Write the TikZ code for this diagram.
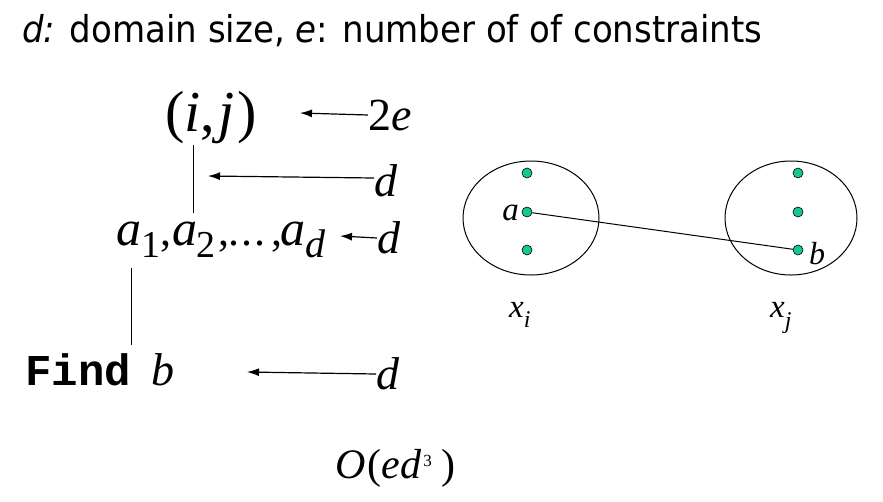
\documentclass[tikz,border=0pt]{standalone}
\usepackage{fontspec}
\setmainfont{Liberation Serif}
\newfontfamily\titlefont{DejaVu Sans}
\newfontfamily\monofont{Liberation Mono}
\usetikzlibrary{arrows.meta,shapes.geometric}
\definecolor{dotgreen}{RGB}{20,200,150}
\newcommand{\fs}[1]{\fontsize{#1}{#1}\selectfont}
\newcommand{\at}[2]{\rlap{\hspace*{#1pt}#2}}
\begin{document}
\begin{tikzpicture}[x=1pt,y=-1pt,
  arr/.style={line width=1.2pt,-{Latex[length=12pt,width=8pt]}},
  thin line/.style={line width=1pt},
  gdot/.style={circle,draw=black,line width=0.6pt,fill=dotgreen,inner sep=0pt,minimum size=10pt},
  dom/.style={ellipse,draw,line width=1pt},
  lbl/.style={inner sep=0pt,anchor=west}]
\useasboundingbox (0,0) rectangle (883,501);
% title
\node[inner sep=0pt,anchor=base west] (title) at (22,42)
  {\titlefont\fs{37}\scalebox{0.92}[1]{\textit{d:} domain size, \textit{e}: number of of constraints}};
% left column
\node[inner sep=0pt,anchor=base west] (ij) at (165,131)
  {\fs{58}\at{0}{(}\at{19}{\textit{i}}\at{35}{,}\at{53}{\textit{j}}\at{72}{)}\hspace*{94pt}};
\node[lbl] (l2e) at (368,115) {\fs{46}2\textit{e}};
\coordinate (t2e) at (300,113);
\draw[arr] (l2e.west) -- (t2e);
\coordinate (ijb) at (193,145);
\coordinate (ab) at (193,213);
\draw[thin line] (ijb) -- (ab);
\node[lbl] (ld1) at (374,181) {\fs{46}\textit{d}};
\coordinate (td1) at (208,176);
\draw[arr] (ld1.west) ++(0,-3) -- (td1);
\node[inner sep=0pt,anchor=base west] (alist) at (116,245)
  {\fs{50}\at{0}{\textit{a}}%
   \at{25}{\raisebox{-12pt}{\fs{38}1}}%
   \at{44}{\fs{44},}%
   \at{56}{\textit{a}}%
   \at{80}{\raisebox{-12pt}{\fs{38}2}}%
   \at{102}{\fs{44},}%
   \at{112}{\fs{44}.}\at{125}{\fs{44}.}\at{138}{\fs{44}.}%
   \at{155}{\fs{44},}%
   \at{164}{\textit{a}}%
   \at{189}{\raisebox{-12pt}{\fs{40}\textit{d}}}%
   \hspace*{210pt}};
\node[lbl] (ld2) at (377,238) {\fs{46}\textit{d}};
\coordinate (td2) at (340,236);
\draw[arr] (ld2.west) -- (td2);
\coordinate (av) at (131,268);
\coordinate (fv) at (131,345);
\draw[thin line] (av) -- (fv);
\node[inner sep=0pt,anchor=base west] (find) at (25,385)
  {\monofont\bfseries\fs{44}Find\hspace{21pt}\rmfamily\mdseries\fs{46}\textit{b}};
\node[lbl] (ld3) at (376,374) {\fs{46}\textit{d}};
\coordinate (td3) at (247,372);
\draw[arr] (ld3.west) -- (td3);
\node[inner sep=0pt,anchor=base west] (big) at (335,478)
  {\fs{42}\textit{O}\hspace{2pt}(\textit{ed}\hspace{2pt}\raisebox{12pt}{\fs{17}3}\hspace{10pt})};
% right side
\node[dom,minimum width=136pt,minimum height=114pt] (xi) at (531,218) {};
\node[dom,minimum width=132pt,minimum height=114pt] (xj) at (791,218) {};
\node[gdot] (i1) at (527,173) {};
\node[gdot] (ia) at (527,212) {};
\node[gdot] (i3) at (527,250) {};
\node[gdot] (j1) at (798,173) {};
\node[gdot] (j2) at (798,212) {};
\node[gdot] (jb) at (798,250) {};
\draw[line width=1pt] (ia) -- (jb);
\node[inner sep=0pt,anchor=east] (la) at (519,213) {\fs{33}\textit{a}};
\node[inner sep=0pt,anchor=west] (lb) at (809,254) {\fs{32}\textit{b}};
\node[inner sep=0pt,anchor=base west] (nxi) at (509,317) {\fs{33}\textit{x}\raisebox{-10pt}{\fs{24}\textit{i}}};
\node[inner sep=0pt,anchor=base west] (nxj) at (770,317) {\fs{33}\textit{x}\raisebox{-11pt}{\fs{24}\textit{j}}};
\end{tikzpicture}
\end{document}
